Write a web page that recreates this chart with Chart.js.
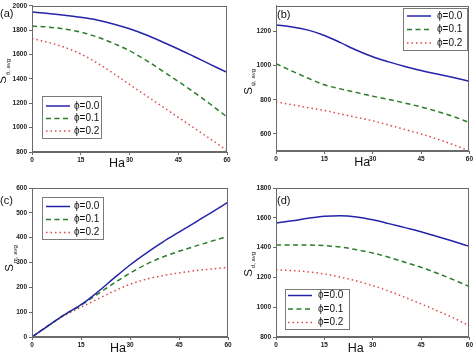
<!DOCTYPE html>
<html><head><meta charset="utf-8">
<script src="https://cdn.jsdelivr.net/npm/chart.js@4/dist/chart.umd.min.js"></script>
<style>
html,body{margin:0;padding:0;background:#fff;width:474px;height:353px;overflow:hidden}
.p{position:absolute}
canvas{display:block}
</style></head><body>
<div class="p" style="left:0;top:0"><canvas id="ca" width="237" height="176"></canvas></div>
<div class="p" style="left:237px;top:0"><canvas id="cb" width="237" height="176"></canvas></div>
<div class="p" style="left:0;top:176px"><canvas id="cc" width="237" height="177"></canvas></div>
<div class="p" style="left:237px;top:176px"><canvas id="cd" width="237" height="177"></canvas></div>
<script>
// ---- data ----
const haValues = [0, 5, 10, 15, 20, 25, 30, 35, 40, 45, 50, 55, 60];
const xTicks = [0, 15, 30, 45, 60];
const seriesNames = ['ϕ=0.0', 'ϕ=0.1', 'ϕ=0.2'];
const panelLabels = ['(a)', '(b)', '(c)', '(d)'];
const yTitleMain = 'S';
const yTitleSubs = ['θ, avg', 'ψ, avg', 'm, avg', 'd, avg'];
const xTitle = 'Ha';

const aPhi00 = [1950, 1938, 1923, 1906, 1884, 1852, 1812, 1763, 1706, 1646, 1582, 1518, 1454];
const aPhi01 = [1834, 1826, 1810, 1785, 1745, 1693, 1632, 1555, 1468, 1380, 1288, 1190, 1088];
const aPhi02 = [1732, 1700, 1660, 1605, 1532, 1447, 1355, 1265, 1175, 1085, 995, 905, 812];
const yTicksA = [800, 1000, 1200, 1400, 1600, 1800, 2000];

const bPhi00 = [1238, 1227, 1208, 1177, 1135, 1090, 1052, 1022, 995, 971, 951, 930, 908];
const bPhi01 = [1012, 968, 926, 888, 864, 843, 821, 802, 781, 758, 732, 702, 667];
const bPhi02 = [788, 771, 754, 738, 717, 697, 677, 652, 626, 600, 570, 537, 500];
const yTicksB = [600, 800, 1000, 1200];

const cPhi00 = [0, 46, 90, 130, 180, 236, 290, 338, 382, 422, 462, 502, 543];
const cPhi01 = [0, 46, 90, 128, 172, 216, 257, 293, 322, 345, 366, 386, 405];
const cPhi02 = [0, 45, 87, 120, 152, 184, 212, 233, 247, 258, 267, 274, 280];
const yTicksC = [0, 100, 200, 300, 400, 500, 600];

const dPhi00 = [1565, 1580, 1597, 1610, 1614, 1606, 1587, 1561, 1534, 1507, 1475, 1442, 1408];
const dPhi01 = [1417, 1418, 1417, 1413, 1404, 1386, 1364, 1335, 1302, 1268, 1228, 1185, 1138];
const dPhi02 = [1250, 1246, 1237, 1223, 1202, 1176, 1145, 1108, 1066, 1022, 976, 928, 876];
const yTicksD = [800, 1000, 1200, 1400, 1600, 1800];

// ---- styles ----
const FONT = "'Liberation Sans', Arial, sans-serif";
const AXIS = '#6a6a6a';
const styles = [
  {color: '#2424a8', dash: []},
  {color: '#2a7d2a', dash: [5, 3.5]},
  {color: '#e04848', dash: [1.5, 3]}
];

const decor = {
  id: 'decor',
  afterDraw(chart) {
    const o = chart.options.plugins.decor;
    const ctx = chart.ctx, a = chart.chartArea;
    ctx.save();
    // frame
    ctx.strokeStyle = AXIS; ctx.lineWidth = 1; ctx.setLineDash([]);
    ctx.strokeRect(Math.round(a.left) + 0.5, Math.round(a.top) + 0.5,
                   Math.round(a.right - a.left) - 1, Math.round(a.bottom - a.top) - 1);
    // panel label
    ctx.fillStyle = '#111';
    ctx.font = '11px ' + FONT;
    ctx.textBaseline = 'middle'; ctx.textAlign = 'left';
    ctx.fillText(o.label, o.lx, o.ly);
    // x title
    ctx.font = '12.5px ' + FONT;
    ctx.textAlign = 'center';
    ctx.fillText(xTitle, (a.left + a.right) / 2 + o.hx, a.bottom + 12);
    // y title
    ctx.save();
    ctx.translate(o.sx, o.sy);
    ctx.rotate(-Math.PI / 2);
    ctx.font = '11.5px ' + FONT;
    ctx.textAlign = 'center'; ctx.textBaseline = 'middle';
    ctx.fillText(yTitleMain, 0, 0);
    const w = ctx.measureText(yTitleMain).width;
    ctx.font = '6px ' + FONT;
    ctx.textAlign = 'left';
    ctx.fillText(o.sub, w / 2 + 1, 5);
    ctx.restore();
    // legend
    const L = o.legend;
    ctx.strokeStyle = '#7a7a7a'; ctx.lineWidth = 1;
    ctx.strokeRect(L.x + 0.5, L.y + 0.5, L.w, L.h);
    ctx.font = '10px ' + FONT;
    ctx.textAlign = 'left'; ctx.textBaseline = 'middle';
    chart.data.datasets.forEach((ds, i) => {
      const y = L.y + L.r0 + i * L.dr;
      ctx.strokeStyle = ds.borderColor; ctx.lineWidth = 1.5;
      ctx.setLineDash(ds.borderDash || []);
      ctx.beginPath(); ctx.moveTo(L.x + L.l0, y); ctx.lineTo(L.x + L.l0 + L.ll, y); ctx.stroke();
      ctx.setLineDash([]);
      ctx.fillStyle = '#111';
      ctx.fillText(ds.label, L.x + L.tx, y);
    });
    ctx.restore();
  }
};

function makeChart(id, series, yTicks, ymin, ymax, lay, dec) {
  const datasets = series.map((s, i) => ({
    label: seriesNames[i],
    data: haValues.map((x, j) => ({x: x, y: s[j]})),
    borderColor: styles[i].color,
    borderDash: styles[i].dash,
    borderWidth: 1.5,
    pointRadius: 0,
    fill: false,
    cubicInterpolationMode: 'monotone'
  }));
  const tickFont = {family: FONT, size: 6.5, weight: 'bold'};
  return new Chart(document.getElementById(id), {
    type: 'line',
    data: {datasets},
    options: {
      responsive: false,
      animation: false,
      devicePixelRatio: 1,
      layout: {padding: {left: 0, top: lay.top, right: lay.right, bottom: 0}},
      plugins: {legend: {display: false}, tooltip: {enabled: false}, decor: dec},
      scales: {
        x: {
          type: 'linear', min: 0, max: 60,
          afterBuildTicks: s => { s.ticks = xTicks.map(v => ({value: v})); },
          afterFit: s => { s.height = lay.xh; },
          grid: {drawOnChartArea: false, drawTicks: true, tickLength: 3, color: AXIS},
          border: {color: AXIS, width: 1},
          ticks: {padding: 1, color: '#222', font: tickFont, maxRotation: 0, callback: v => String(v)}
        },
        y: {
          type: 'linear', min: ymin, max: ymax,
          afterBuildTicks: s => { s.ticks = yTicks.map(v => ({value: v})); },
          afterFit: s => { s.width = lay.yw; },
          grid: {drawOnChartArea: false, drawTicks: true, tickLength: 3, color: AXIS},
          border: {color: AXIS, width: 1},
          ticks: {padding: 2, color: '#222', font: tickFont, callback: v => String(v)}
        }
      }
    },
    plugins: [decor]
  });
}

makeChart('ca', [aPhi00, aPhi01, aPhi02], yTicksA, 800, 2000,
  {top: 3, right: 10, xh: 24, yw: 32},
  {label: panelLabels[0], lx: 0, ly: 14, hx: -12.5, sx: 3, sy: 80, sub: yTitleSubs[0],
   legend: {x: 42, y: 96, w: 59, h: 42, r0: 10, dr: 12.5, l0: 4, ll: 24, tx: 32}});
makeChart('cb', [bPhi00, bPhi01, bPhi02], yTicksB, 500, 1350,
  {top: 3, right: 4, xh: 25, yw: 39},
  {label: panelLabels[1], lx: 40, ly: 15, hx: -10.5, sx: 11.5, sy: 91, sub: yTitleSubs[1],
   legend: {x: 166, y: 8, w: 64, h: 42, r0: 8, dr: 13.5, l0: 4, ll: 24, tx: 34}});
makeChart('cc', [cPhi00, cPhi01, cPhi02], yTicksC, 0, 600,
  {top: 12, right: 9, xh: 16, yw: 32},
  {label: panelLabels[2], lx: 0, ly: 25, hx: -12, sx: 10, sy: 92, sub: yTitleSubs[2],
   legend: {x: 42, y: 21, w: 61, h: 42, r0: 9.5, dr: 13, l0: 4, ll: 24, tx: 32}});
makeChart('cd', [dPhi00, dPhi01, dPhi02], yTicksD, 800, 1800,
  {top: 12, right: 4, xh: 16, yw: 39},
  {label: panelLabels[3], lx: 40, ly: 25, hx: -17, sx: 11.5, sy: 97, sub: yTitleSubs[3],
   legend: {x: 48, y: 113, w: 64, h: 40, r0: 6.5, dr: 13.5, l0: 3, ll: 24, tx: 33}});
</script>
</body></html>
